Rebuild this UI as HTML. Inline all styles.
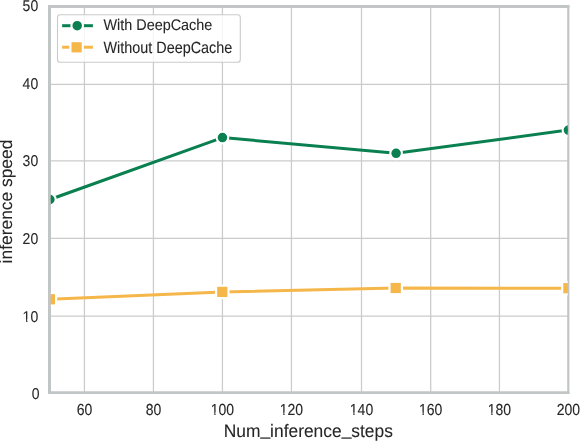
<!DOCTYPE html>
<html><head><meta charset="utf-8"><title>inference speed</title>
<style>html,body{margin:0;padding:0;background:#fff;width:580px;height:441px;overflow:hidden}svg{display:block}</style>
</head><body>
<svg width="580" height="441" viewBox="0 0 580 441">
<defs><clipPath id="ax"><rect x="50.8" y="6.6" width="516.90" height="386.00"/></clipPath></defs>
<rect x="0" y="0" width="580" height="441" fill="#fff"/>
<line x1="84.44" y1="6.60" x2="84.44" y2="392.60" stroke="#cbcbcb" stroke-width="1.25"/>
<line x1="153.44" y1="6.60" x2="153.44" y2="392.60" stroke="#cbcbcb" stroke-width="1.25"/>
<line x1="222.44" y1="6.60" x2="222.44" y2="392.60" stroke="#cbcbcb" stroke-width="1.25"/>
<line x1="291.44" y1="6.60" x2="291.44" y2="392.60" stroke="#cbcbcb" stroke-width="1.25"/>
<line x1="361.50" y1="6.60" x2="361.50" y2="392.60" stroke="#cbcbcb" stroke-width="1.25"/>
<line x1="430.70" y1="6.60" x2="430.70" y2="392.60" stroke="#cbcbcb" stroke-width="1.25"/>
<line x1="499.44" y1="6.60" x2="499.44" y2="392.60" stroke="#cbcbcb" stroke-width="1.25"/>
<line x1="49.50" y1="316.00" x2="568.30" y2="316.00" stroke="#cbcbcb" stroke-width="1.25"/>
<line x1="49.50" y1="238.40" x2="568.30" y2="238.40" stroke="#cbcbcb" stroke-width="1.25"/>
<line x1="49.50" y1="160.85" x2="568.30" y2="160.85" stroke="#cbcbcb" stroke-width="1.25"/>
<line x1="49.50" y1="84.40" x2="568.30" y2="84.40" stroke="#cbcbcb" stroke-width="1.25"/>
<line x1="48" y1="6.6" x2="569.4" y2="6.6" stroke="#c2c5c6" stroke-width="3"/>
<line x1="48" y1="392.6" x2="569.4" y2="392.6" stroke="#c2c5c6" stroke-width="2.6"/>
<line x1="49.5" y1="5.1" x2="49.5" y2="393.9" stroke="#c2c5c6" stroke-width="3"/>
<line x1="568.3" y1="5.1" x2="568.3" y2="393.9" stroke="#c2c5c6" stroke-width="2.2"/>
<g clip-path="url(#ax)">
<polyline points="49.90,199.50 222.45,137.55 396.10,153.30 568.40,130.05" fill="none" stroke="#0a8050" stroke-width="3.0" stroke-linejoin="round"/>
<circle cx="49.90" cy="199.50" r="5.8" fill="#0a8050" stroke="#fff" stroke-width="2.1"/>
<circle cx="222.45" cy="137.55" r="5.8" fill="#0a8050" stroke="#fff" stroke-width="2.1"/>
<circle cx="396.10" cy="153.30" r="5.8" fill="#0a8050" stroke="#fff" stroke-width="2.1"/>
<circle cx="568.40" cy="130.05" r="5.8" fill="#0a8050" stroke="#fff" stroke-width="2.1"/>
<polyline points="49.90,299.30 222.30,291.90 395.70,288.00 568.40,288.20" fill="none" stroke="#f5b64a" stroke-width="3.0" stroke-linejoin="round"/>
<rect x="43.70" y="293.10" width="12.4" height="12.4" fill="#f5b64a" stroke="#fff" stroke-width="2.2"/>
<rect x="216.10" y="285.70" width="12.4" height="12.4" fill="#f5b64a" stroke="#fff" stroke-width="2.2"/>
<rect x="389.50" y="281.80" width="12.4" height="12.4" fill="#f5b64a" stroke="#fff" stroke-width="2.2"/>
<rect x="562.20" y="282.00" width="12.4" height="12.4" fill="#f5b64a" stroke="#fff" stroke-width="2.2"/>
</g>
<rect x="57.5" y="14.7" width="182.8" height="47.6" rx="2.8" ry="2.8" fill="#fff" fill-opacity="0.8" stroke="#cacaca" stroke-width="1.1"/>
<line x1="62.1" y1="25.7" x2="92.9" y2="25.7" stroke="#0a8050" stroke-width="3.0"/>
<circle cx="77.2" cy="25.7" r="5.8" fill="#0a8050" stroke="#fff" stroke-width="2.1"/>
<line x1="62.1" y1="47.2" x2="92.9" y2="47.2" stroke="#f5b64a" stroke-width="3.0"/>
<rect x="70.40" y="41.10" width="12.4" height="12.4" fill="#f5b64a" stroke="#fff" stroke-width="2.2"/>
<g font-family="Liberation Sans, Arial, Helvetica, sans-serif" fill="#262626" stroke="#262626" stroke-width="0.08" text-rendering="geometricPrecision">
<text transform="translate(103.50,30.00) scale(1,1.07)" font-size="14.4" text-anchor="start">With DeepCache</text>
<text transform="translate(103.50,52.80) scale(1,1.13)" font-size="14.4" text-anchor="start">Without DeepCache</text>
<text transform="translate(39.50,398.90) scale(1,1.12)" font-size="14" text-anchor="end">0</text>
<text transform="translate(38.20,321.60) scale(1,1.12)" font-size="14" text-anchor="end">10</text><path transform="translate(38.20,321.60) scale(1,1.12)" fill="#fff" stroke="none" d="M-15.51 -2.05H-12.05V0.60H-15.51Z M-10.81 -2.05H-7.47V0.60H-10.81Z"/>
<text transform="translate(38.20,244.00) scale(1,1.12)" font-size="14" text-anchor="end">20</text>
<text transform="translate(38.20,166.00) scale(1,1.12)" font-size="14" text-anchor="end">30</text>
<text transform="translate(38.20,89.00) scale(1,1.12)" font-size="14" text-anchor="end">40</text>
<text transform="translate(38.20,10.90) scale(1,1.12)" font-size="14" text-anchor="end">50</text>
<text transform="translate(84.44,414.90) scale(1,1.14)" font-size="14" text-anchor="middle">60</text>
<text transform="translate(153.44,414.90) scale(1,1.14)" font-size="14" text-anchor="middle">80</text>
<text transform="translate(222.44,414.90) scale(1,1.14)" font-size="14" text-anchor="middle">100</text><path transform="translate(222.44,414.90) scale(1,1.14)" fill="#fff" stroke="none" d="M-11.61 -2.05H-8.16V0.60H-11.61Z M-6.92 -2.05H-3.58V0.60H-6.92Z"/>
<text transform="translate(291.44,414.90) scale(1,1.14)" font-size="14" text-anchor="middle">120</text><path transform="translate(291.44,414.90) scale(1,1.14)" fill="#fff" stroke="none" d="M-11.61 -2.05H-8.16V0.60H-11.61Z M-6.92 -2.05H-3.58V0.60H-6.92Z"/>
<text transform="translate(361.50,414.90) scale(1,1.14)" font-size="14" text-anchor="middle">140</text><path transform="translate(361.50,414.90) scale(1,1.14)" fill="#fff" stroke="none" d="M-11.61 -2.05H-8.16V0.60H-11.61Z M-6.92 -2.05H-3.58V0.60H-6.92Z"/>
<text transform="translate(430.70,414.90) scale(1,1.14)" font-size="14" text-anchor="middle">160</text><path transform="translate(430.70,414.90) scale(1,1.14)" fill="#fff" stroke="none" d="M-11.61 -2.05H-8.16V0.60H-11.61Z M-6.92 -2.05H-3.58V0.60H-6.92Z"/>
<text transform="translate(499.44,414.90) scale(1,1.14)" font-size="14" text-anchor="middle">180</text><path transform="translate(499.44,414.90) scale(1,1.14)" fill="#fff" stroke="none" d="M-11.61 -2.05H-8.16V0.60H-11.61Z M-6.92 -2.05H-3.58V0.60H-6.92Z"/>
<text transform="translate(568.40,414.90) scale(1,1.14)" font-size="14" text-anchor="middle">200</text>
<text transform="translate(308.30,436.60) scale(1,1.04)" font-size="17.4" text-anchor="middle">Num<tspan dy="-1.7">_</tspan><tspan dy="1.7">inference</tspan><tspan dy="-1.7">_</tspan><tspan dy="1.7">steps</tspan></text>
<text transform="translate(12.40,201.50) rotate(-90) scale(1,1.0)" font-size="17.4" text-anchor="middle">inference speed</text>
</g>
</svg>
</body></html>
